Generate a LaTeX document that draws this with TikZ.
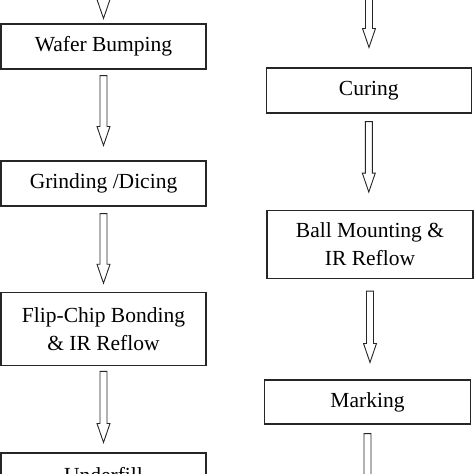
\documentclass[tikz,border=0pt]{standalone}
\usepackage{fontspec}
\setmainfont{Liberation Serif}
\usetikzlibrary{calc}
\tikzset{
  stepbox/.style={draw=black!85, line width=1.1pt, fill=white, inner sep=0pt,
    align=center, font=\fontsize{21.5}{28}\selectfont, text=black},
  flowarrow/.style={draw=black!85, line width=0.9pt, fill=white, line join=miter},
}
% #1 start point, #2 end point, #3 gap at start, #4 gap at end
\newcommand\hollowarrow[4]{%
  \draw[flowarrow] let \p1=#1, \p2=#2 in
    (\x1-3.5pt,\y1-#3) -- (\x1+3.5pt,\y1-#3) -- (\x1+3.5pt,\y2+#4+19pt)
    -- (\x1+6.5pt,\y2+#4+19pt) -- (\x1,\y2+#4) -- (\x1-6.5pt,\y2+#4+19pt)
    -- (\x1-3.5pt,\y2+#4+19pt) -- cycle;}
\begin{document}
\begin{tikzpicture}[x=1pt,y=-1pt]
\useasboundingbox (0,0) rectangle (474,474);
\clip (0,0) rectangle (474,474);
\fill[white] (0,0) rectangle (474,474);
% left column
\node[stepbox, minimum width=205pt, minimum height=45pt] (wafer) at (103.5,46.5) {Wafer Bumping};
\node[stepbox, minimum width=205pt, minimum height=45pt] (grind) at (103.5,183.5) {Grinding /Dicing};
\node[stepbox, minimum width=205pt, minimum height=73pt] (flip) at (103.5,329.3) {Flip-Chip Bonding\\\& IR Reflow};
\node[stepbox, minimum width=205pt, minimum height=45pt] (under) at (103.5,475.5) {Underfill};
% right column
\node[stepbox, minimum width=205pt, minimum height=45pt] (curing) at (368.8,90.5) {Curing};
\node[stepbox, minimum width=206pt, minimum height=68pt] (ball) at (370,244.6) {Ball Mounting \&\\IR Reflow};
\node[stepbox, minimum width=206pt, minimum height=44pt] (mark) at (367.5,402) {Marking};
% free ends
\coordinate (ltop) at (103.5,-40);
\coordinate (rtop) at (369,-40);
\coordinate (rbot) at (369,510);
% arrows
\hollowarrow{(ltop)}{(wafer.north)}{0pt}{5pt}
\hollowarrow{(wafer.south)}{(grind.north)}{6pt}{15pt}
\hollowarrow{(grind.south)}{(flip.north)}{7pt}{9pt}
\hollowarrow{(flip.south)}{(under.north)}{5pt}{10pt}
\hollowarrow{(rtop)}{(curing.north)}{0pt}{20pt}
\hollowarrow{(curing.south)}{(ball.north)}{8pt}{18pt}
\hollowarrow{(ball.south)}{(mark.north)}{12pt}{17pt}
\hollowarrow{(mark.south)}{(rbot)}{9pt}{0pt}
\end{tikzpicture}
\end{document}
